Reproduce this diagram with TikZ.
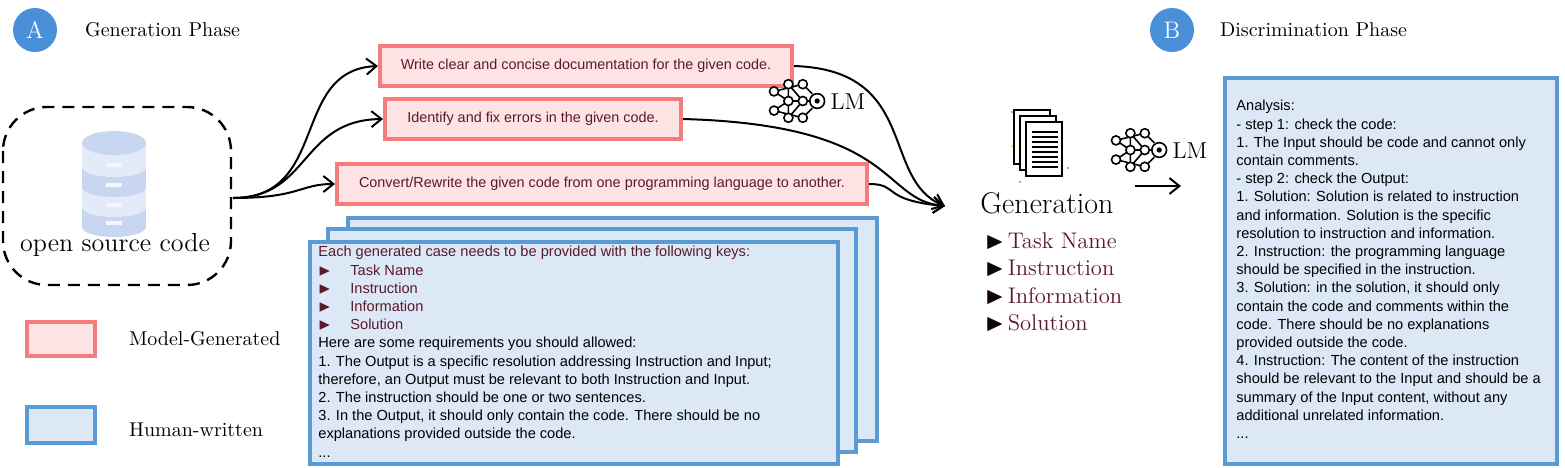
\documentclass[tikz,border=0pt]{standalone}
\usepackage{fontspec}
\usepackage{amssymb}
\newfontfamily\arialf{Liberation Sans}
\usetikzlibrary{arrows.meta,shapes.geometric}
\definecolor{redfill}{HTML}{FDE3E3}
\definecolor{redline}{HTML}{F47C7C}
\definecolor{bluefill}{HTML}{DCE8F6}
\definecolor{blueline}{HTML}{5B9BD5}
\definecolor{circ}{HTML}{4A90D9}
\definecolor{dred}{HTML}{5A1A2A}
\definecolor{cyl}{HTML}{C9D6F2}
\definecolor{cylb}{HTML}{E3EAF8}
\tikzset{
 redbox/.style={draw=redline,fill=redfill,line width=2pt,text=dred,font=\arialf\fontsize{7.2}{8.8}\selectfont,inner sep=5pt,anchor=west,minimum height=20pt},
 bluebox/.style={draw=blueline,fill=bluefill,line width=2pt},
 badge/.style={circle,fill=circ,text=white,minimum size=22pt,font=\large},
 conn/.style={line width=1pt,-{Straight Barb[length=5pt,width=8pt]}},
 ser/.style={font=\fontsize{10}{12}\selectfont},
 nn/.style={circle,draw=black,line width=0.8pt,inner sep=1.6pt},
}
\newcommand{\nnicon}[1]{%
 \begin{scope}[shift={#1},scale=1.2]
  \draw[line width=0.8pt] (-20,-8)--(-8,0)--(-20,8) (-8,-14)--(-8,0)--(-8,14) (-20,-8)--(4,-14) (-20,8)--(4,14) (-8,0)--(4,0)--(16,0) (4,-14)--(12,-6) (4,14)--(12,6) (-8,-14)--(4,0) (-8,14)--(4,0);
  \foreach \p in {(-20,-8),(-20,8),(-8,-14),(-8,14),(-8,0),(4,-14),(4,14),(4,0)} \node[nn,fill=white] at \p {};
  \node[circle,draw,line width=0.8pt,inner sep=2.6pt,fill=white] at (16,0) {};
  \fill (16,0) circle (2.2);
 \end{scope}}
\begin{document}
\begin{tikzpicture}[x=0.5pt,y=-0.5pt]
\useasboundingbox (0,0) rectangle (1565,467);
% headers
\node[badge] (A) at (35,30) {A};
\node[ser,anchor=west] (ga) at (78,30) {Generation Phase};
\node[badge] (B) at (1172,30) {B};
\node[ser,anchor=west] (gb) at (1213,30) {Discrimination Phase};
% source box
\draw[line width=1.2pt,dash pattern=on 6pt off 4pt,rounded corners=22pt] (3,107) rectangle (231,285);
\coordinate (src) at (233,198);
\begin{scope}[shift={(114,175)}]
 \foreach \y/\c in {40/cyl,20/cylb,0/cyl,-20/cylb}{
  \fill[\c] (-32,\y-12) rectangle (32,\y+12);
  \fill[\c] (0,\y+12) ellipse (32 and 10);}
 \fill[cyl] (0,-32) ellipse (32 and 12);
 \foreach \y in {-10,10,30,48}{\fill[white!80!cyl] (-8,\y-2) rectangle (8,\y+2);}
\end{scope}
\node[font=\fontsize{13}{15}\selectfont] (osc) at (115,245) {open source code};
% red boxes
\node[redbox,minimum width=206pt] (r1) at (378,66) {Write clear and concise documentation for the given code.};
\node[redbox,minimum width=148pt] (r2) at (383,119) {Identify and fix errors in the given code.};
\node[redbox,minimum width=265pt] (r3) at (335,184) {Convert/Rewrite the given code from one programming language to another.};
% blue stacked
\draw[bluebox] (348,218) rectangle (877,441);
\draw[bluebox] (328,229) rectangle (856,452);
\node[bluebox,anchor=north west,minimum width=264pt,minimum height=111pt,inner sep=0pt] (hb) at (308,240) {};
\node[anchor=north west,align=left,font=\arialf\fontsize{7.3}{9.1}\selectfont,inner sep=0pt] (hbt) at (318,246) {%
\textcolor{dred}{Each generated case needs to be provided with the following keys:}\\
\textcolor{dred}{\rlap{\footnotesize$\blacktriangleright$}\hspace{16pt}Task Name}\\
\textcolor{dred}{\rlap{\footnotesize$\blacktriangleright$}\hspace{16pt}Instruction}\\
\textcolor{dred}{\rlap{\footnotesize$\blacktriangleright$}\hspace{16pt}Information}\\
\textcolor{dred}{\rlap{\footnotesize$\blacktriangleright$}\hspace{16pt}Solution}\\
Here are some requirements you should allowed:\\
1. The Output is a specific resolution addressing Instruction and Input;\\
therefore, an Output must be relevant to both Instruction and Input.\\
2. The instruction should be one or two sentences.\\
3. In the Output, it should only contain the code. There should be no\\
explanations provided outside the code.\\
...};
% legend
\node[draw=redline,fill=redfill,line width=2pt,minimum width=34pt,minimum height=17pt] (lr) at (61,339) {};
\node[ser,anchor=west] (lrt) at (122,339) {Model-Generated};
\node[draw=blueline,fill=bluefill,line width=2pt,minimum width=34pt,minimum height=18pt] (lb) at (61,425) {};
\node[ser,anchor=west] (lbt) at (122,430) {Human-written};
% LM 1
\nnicon{(798,101)}
\node[font=\fontsize{11.5}{13}\selectfont] (lm1) at (848,102) {LM};
% generation
\coordinate (gen) at (945,206);
\begin{scope}[shift={(1040,140)}]
 \foreach \d in {0,6,12}{\draw[fill=white,line width=1pt] (-26+\d,-30+\d) rectangle (10+\d,24+\d);}
 \foreach \y in {-8,-3,...,30}{\draw[line width=0.9pt] (-8,\y) -- (18,\y);}
 \fill[orange] (-28,-28) circle (1.2); \fill[yellow!80!orange] (-28,6) circle (1.2);
 \fill[blueline] (-20,42) circle (1.2); \fill[blueline] (28,28) circle (1.2);
\end{scope}
\node[font=\fontsize{15}{17}\selectfont] (gtitle) at (1047,203) {Generation};
\node[anchor=north west,align=left,text=dred,font=\fontsize{11.3}{13.8}\selectfont,inner sep=0pt] (glist) at (985,232) {%
\textcolor{black!80!dred}{\large$\blacktriangleright$}\,Task Name\\
\textcolor{black!80!dred}{\large$\blacktriangleright$}\,Instruction\\
\textcolor{black!80!dred}{\large$\blacktriangleright$}\,Information\\
\textcolor{black!80!dred}{\large$\blacktriangleright$}\,Solution};
% LM 2
\nnicon{(1140,150)}
\node[font=\fontsize{11.5}{13}\selectfont] (lm2) at (1190,151) {LM};
\coordinate (a2s) at (1135,186);
\coordinate (a2e) at (1181,186);
\draw[conn,line width=1pt] (a2s) -- (a2e);
% right box
\node[bluebox,anchor=north west,minimum width=166pt,minimum height=193pt,inner sep=0pt] (rb) at (1223,76) {};
\node[anchor=north west,align=left,font=\arialf\fontsize{7.3}{9.1}\selectfont,inner sep=0pt] (rbt) at (1236,100) {%
Analysis:\\
- step 1: check the code:\\
1. The Input should be code and cannot only\\
contain comments.\\
- step 2: check the Output:\\
1. Solution: Solution is related to instruction\\
and information. Solution is the specific\\
resolution to instruction and information.\\
2. Instruction: the programming language\\
should be specified in the instruction.\\
3. Solution: in the solution, it should only\\
contain the code and comments within the\\
code. There should be no explanations\\
provided outside the code.\\
4. Instruction: The content of the instruction\\
should be relevant to the Input and should be a\\
summary of the Input content, without any\\
additional unrelated information.\\
...};
% connectors
\draw[conn] (src) .. controls (330,198) and (290,70) .. (r1.west);
\draw[conn] (src) .. controls (310,198) and (300,120) .. (r2.west);
\draw[conn] (src) .. controls (300,198) and (300,184) .. (r3.west);
\draw[conn] (r1.east) .. controls (920,70) and (880,180) .. (gen);
\draw[conn] (r2.east) .. controls (900,125) and (880,200) .. (gen);
\draw[conn] (r3.east) .. controls (900,184) and (880,200) .. (gen);
\end{tikzpicture}
\end{document}
